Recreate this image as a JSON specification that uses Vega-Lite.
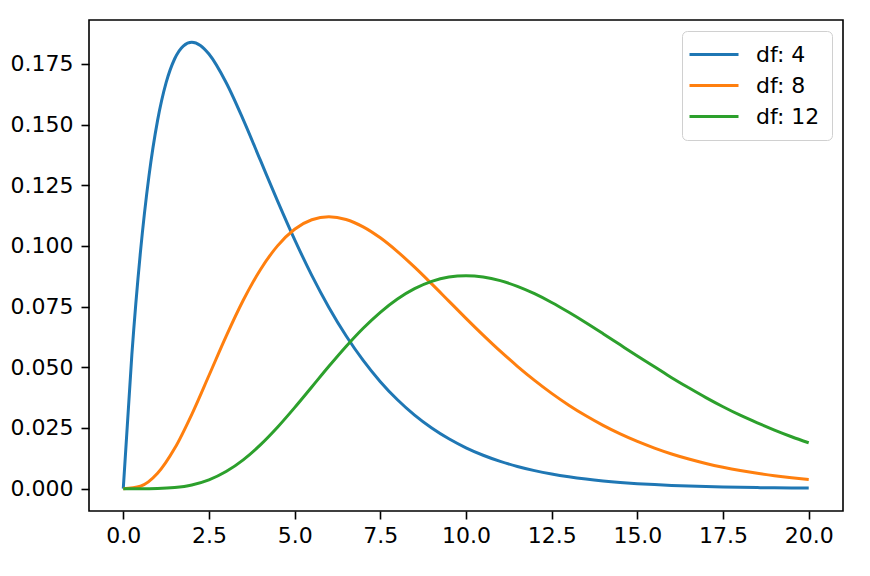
{
  "$schema": "https://vega.github.io/schema/vega-lite/v6.json",
  "width": 754,
  "height": 491,
  "autosize": {"type": "none"},
  "padding": {"left": 89, "top": 20, "right": 27, "bottom": 65},
  "background": "white",
  "config": {
    "font": "DejaVu Sans",
    "view": {"stroke": "black", "strokeWidth": 1.6}
  },
  "datasets": {
    "d4": [
      {"x":0,"pdf":0},{"x":0.25,"pdf":0.055156},{"x":0.5,"pdf":0.09735},{"x":0.75,"pdf":0.128867},{"x":1,"pdf":0.151633},{"x":1.25,"pdf":0.167269},{"x":1.5,"pdf":0.177138},{"x":1.75,"pdf":0.182377},{"x":2,"pdf":0.18394},{"x":2.25,"pdf":0.182617},{"x":2.5,"pdf":0.179066},{"x":3,"pdf":0.167348},{"x":3.5,"pdf":0.152052},{"x":4,"pdf":0.135335},{"x":4.5,"pdf":0.118574},{"x":5,"pdf":0.102606},{"x":5.5,"pdf":0.087901},{"x":6,"pdf":0.074681},{"x":6.5,"pdf":0.063008},{"x":7,"pdf":0.052845},{"x":7.5,"pdf":0.044096},{"x":8,"pdf":0.036632},{"x":8.5,"pdf":0.030311},{"x":9,"pdf":0.024995},{"x":9.5,"pdf":0.020549},{"x":10,"pdf":0.016845},{"x":10.5,"pdf":0.013776},{"x":11,"pdf":0.011239},{"x":11.5,"pdf":0.009151},{"x":12,"pdf":0.007437},{"x":12.5,"pdf":0.006031},{"x":13,"pdf":0.004885},{"x":13.5,"pdf":0.003952},{"x":14,"pdf":0.003192},{"x":14.5,"pdf":0.002574},{"x":15,"pdf":0.002074},{"x":15.5,"pdf":0.00167},{"x":16,"pdf":0.00134},{"x":16.5,"pdf":0.001077},{"x":17,"pdf":0.000863},{"x":17.5,"pdf":0.000691},{"x":18,"pdf":0.000554},{"x":18.5,"pdf":0.000444},{"x":19,"pdf":0.000356},{"x":19.5,"pdf":0.000284},{"x":20,"pdf":0.000227}
    ],
    "d8": [
      {"x":0,"pdf":0},{"x":0.5,"pdf":0.001014},{"x":1,"pdf":0.006318},{"x":1.5,"pdf":0.016607},{"x":2,"pdf":0.030657},{"x":2.5,"pdf":0.046632},{"x":3,"pdf":0.062755},{"x":3.5,"pdf":0.07761},{"x":4,"pdf":0.090223},{"x":4.5,"pdf":0.100047},{"x":5,"pdf":0.106882},{"x":5.5,"pdf":0.110792},{"x":6,"pdf":0.112021},{"x":6.5,"pdf":0.11092},{"x":7,"pdf":0.107891},{"x":7.5,"pdf":0.103351},{"x":8,"pdf":0.097685},{"x":8.5,"pdf":0.091249},{"x":9,"pdf":0.084359},{"x":9.5,"pdf":0.077271},{"x":10,"pdf":0.070188},{"x":10.5,"pdf":0.063284},{"x":11,"pdf":0.056665},{"x":11.5,"pdf":0.050427},{"x":12,"pdf":0.044622},{"x":12.5,"pdf":0.039266},{"x":13,"pdf":0.034397},{"x":13.5,"pdf":0.030011},{"x":14,"pdf":0.026068},{"x":14.5,"pdf":0.022547},{"x":15,"pdf":0.019441},{"x":15.5,"pdf":0.016719},{"x":16,"pdf":0.014293},{"x":16.5,"pdf":0.012213},{"x":17,"pdf":0.010389},{"x":17.5,"pdf":0.008821},{"x":18,"pdf":0.007472},{"x":18.5,"pdf":0.006338},{"x":19,"pdf":0.005351},{"x":19.5,"pdf":0.004503},{"x":20,"pdf":0.003783}
    ],
    "d12": [
      {"x":0,"pdf":0},{"x":0.5,"pdf":0.000003},{"x":1,"pdf":0.000079},{"x":1.5,"pdf":0.000467},{"x":2,"pdf":0.001533},{"x":2.5,"pdf":0.003643},{"x":3,"pdf":0.00706},{"x":3.5,"pdf":0.011884},{"x":4,"pdf":0.018045},{"x":4.5,"pdf":0.025324},{"x":5,"pdf":0.0334},{"x":5.5,"pdf":0.041893},{"x":6,"pdf":0.050409},{"x":6.5,"pdf":0.05858},{"x":7,"pdf":0.066084},{"x":7.5,"pdf":0.072668},{"x":8,"pdf":0.078148},{"x":8.5,"pdf":0.082409},{"x":9,"pdf":0.085414},{"x":9.5,"pdf":0.087171},{"x":10,"pdf":0.087734},{"x":10.5,"pdf":0.087213},{"x":11,"pdf":0.085705},{"x":11.5,"pdf":0.083361},{"x":12,"pdf":0.08032},{"x":12.5,"pdf":0.076711},{"x":13,"pdf":0.072663},{"x":13.5,"pdf":0.06837},{"x":14,"pdf":0.063866},{"x":14.5,"pdf":0.059257},{"x":15,"pdf":0.054679},{"x":15.5,"pdf":0.050246},{"x":16,"pdf":0.045739},{"x":16.5,"pdf":0.041562},{"x":17,"pdf":0.03753},{"x":17.5,"pdf":0.033767},{"x":18,"pdf":0.030263},{"x":18.5,"pdf":0.027115},{"x":19,"pdf":0.024148},{"x":19.5,"pdf":0.021404},{"x":20,"pdf":0.018917}
    ]
  },
  "layer": [
    {
      "data": {"name": "d4"},
      "transform": [{"calculate": "'df: 4'", "as": "series"}],
      "mark": {"type": "line", "interpolate": "monotone", "strokeWidth": 3},
      "encoding": {
        "x": {"field": "x", "type": "quantitative"},
        "y": {"field": "pdf", "type": "quantitative"},
        "color": {"field": "series", "type": "nominal"}
      }
    },
    {
      "data": {"name": "d8"},
      "transform": [{"calculate": "'df: 8'", "as": "series"}],
      "mark": {"type": "line", "interpolate": "monotone", "strokeWidth": 3},
      "encoding": {
        "x": {"field": "x", "type": "quantitative"},
        "y": {"field": "pdf", "type": "quantitative"},
        "color": {"field": "series", "type": "nominal"}
      }
    },
    {
      "data": {"name": "d12"},
      "transform": [{"calculate": "'df: 12'", "as": "series"}],
      "mark": {"type": "line", "interpolate": "monotone", "strokeWidth": 3},
      "encoding": {
        "x": {
          "field": "x", "type": "quantitative",
          "scale": {"domain": [-1, 21], "nice": false, "zero": false},
          "axis": {
            "title": null, "grid": false, "domain": false,
            "values": [0, 2.5, 5, 7.5, 10, 12.5, 15, 17.5, 20],
            "format": ".1f", "tickSize": 8, "tickWidth": 1.6, "tickColor": "black",
            "labelFont": "DejaVu Sans", "labelFontSize": 22, "labelColor": "black", "labelPadding": 6
          }
        },
        "y": {
          "field": "pdf", "type": "quantitative",
          "scale": {"domain": [-0.0092, 0.1931], "nice": false, "zero": false},
          "axis": {
            "title": null, "grid": false, "domain": false,
            "values": [0, 0.025, 0.05, 0.075, 0.1, 0.125, 0.15, 0.175],
            "format": ".3f", "tickSize": 8, "tickWidth": 1.6, "tickColor": "black",
            "labelFont": "DejaVu Sans", "labelFontSize": 22, "labelColor": "black", "labelPadding": 8
          }
        },
        "color": {
          "field": "series", "type": "nominal",
          "scale": {"domain": ["df: 4", "df: 8", "df: 12"], "range": ["#1f77b4", "#ff7f0e", "#2ca02c"]},
          "legend": {
            "title": null, "orient": "top-right", "offset": 11,
            "symbolType": "M-1.6,0H3.3", "symbolSize": 400, "symbolStrokeWidth": 3,
            "labelFont": "DejaVu Sans", "labelFontSize": 22, "labelColor": "black", "labelOffset": 39,
            "rowPadding": 8, "padding": 12,
            "strokeColor": "#d0d0d0", "fillColor": "rgba(255,255,255,0.8)", "cornerRadius": 5
          }
        }
      }
    }
  ]
}
